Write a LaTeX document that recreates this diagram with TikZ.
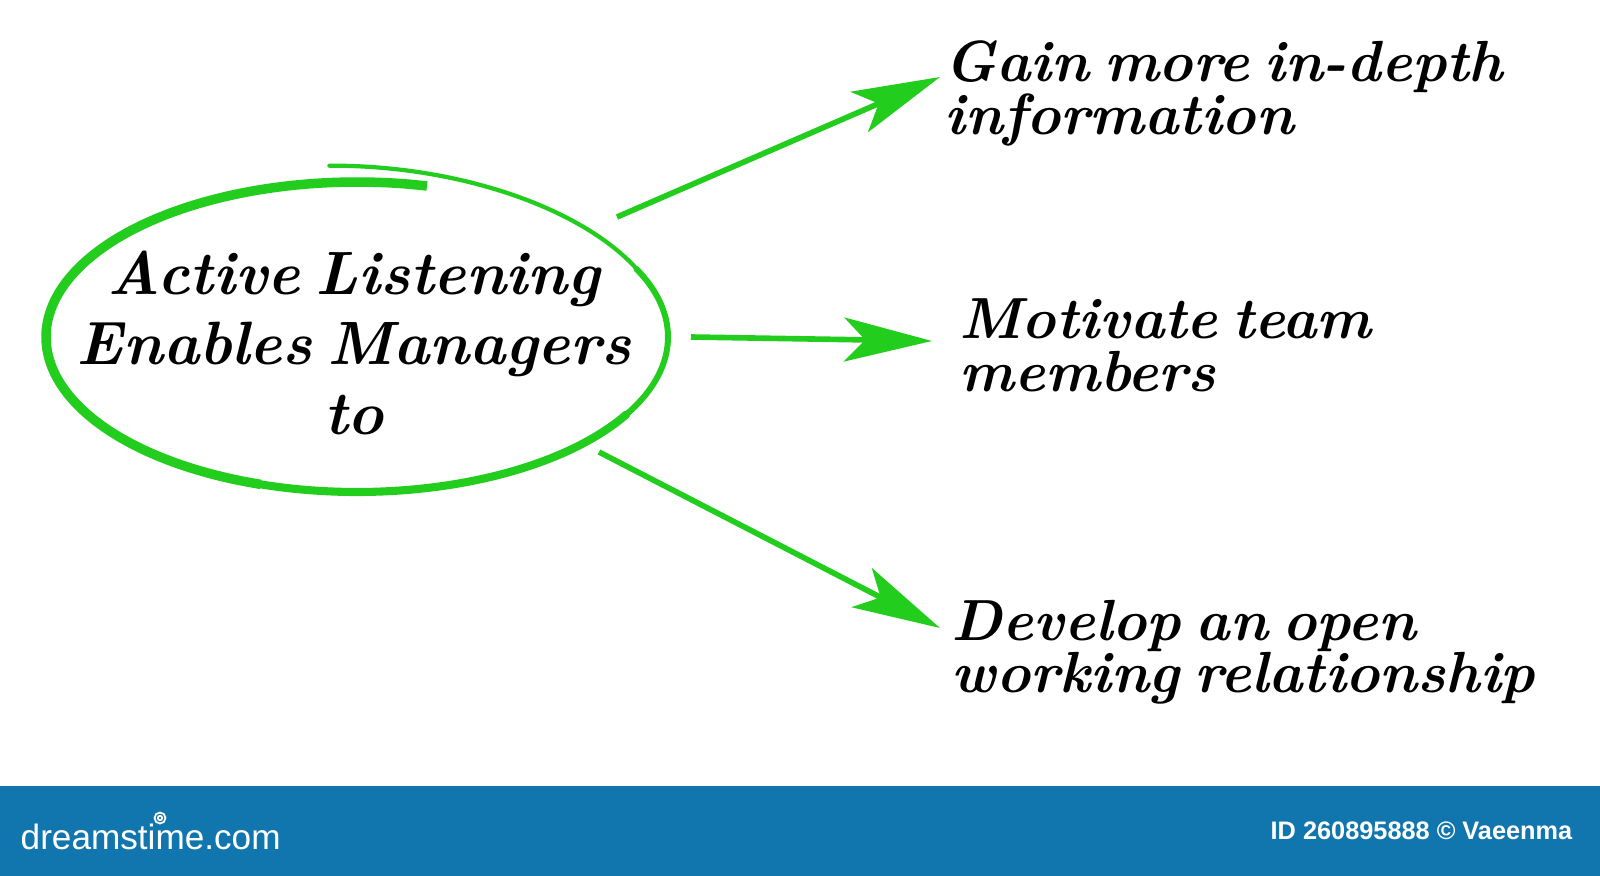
\documentclass[tikz,border=0pt]{standalone}
\usepackage{fontspec}
\newfontfamily\bannerfont{Liberation Sans}
\usetikzlibrary{arrows.meta}
\definecolor{lgreen}{RGB}{35,205,30}
\definecolor{bannerblue}{RGB}{17,118,173}
\tikzset{
  mainfont/.style={font=\fontsize{17.4}{19.9}\selectfont\bfseries\itshape,
    execute at begin node={\spaceskip=4.4pt plus 1pt\relax}},
  itemfont/.style={font=\fontsize{16.5}{15}\selectfont\bfseries\itshape,
    execute at begin node={\spaceskip=4.2pt plus 1pt\relax}},
  greenarrow/.style={draw=lgreen, line width=1.6pt,
    -{Stealth[length=25pt, width=12.5pt, inset=6pt]}},
  ring/.style={draw=lgreen},
  itemtext/.style={itemfont, align=left, inner sep=0pt, anchor=north west}
}
\begin{document}
\lineskiplimit=-100pt\relax
\begin{tikzpicture}[x=0.01cm, y=-0.01cm]
\useasboundingbox (0,0) rectangle (1600,876);
\fill[white] (0,0) rectangle (1600,876);
\fill[bannerblue] (0,786) rectangle (1600,876);

% hand-drawn ring
\draw[ring, line width=2.7pt] plot[smooth, domain=77:252, samples=50]
  ({357+311*cos(\x)},{337-155*sin(\x)});
\draw[ring, line width=2.3pt, line cap=round] plot[smooth, domain=250:330, samples=30]
  ({357+311*cos(\x)},{337-155*sin(\x)});
\draw[ring, line width=1.7pt, line cap=round] plot[smooth, domain=328:386, samples=25]
  ({357+311*cos(\x)},{337-155*sin(\x)});
\draw[ring, line width=1.2pt, line cap=round] plot[smooth, domain=384:455, samples=30]
  ({357+(311+6*(\x-384)/71)*cos(\x)},{337-(155+17*(\x-384)/71)*sin(\x)});

\node[mainfont, align=center, inner sep=0pt] (main) at (354,343)
  {Active Listening\\Enables Managers\\to};

\node[itemtext] (t1) at (944,40) {Gain more in-depth\\information};
\node[itemtext] (t2) at (959,298) {Motivate team\\members};
\node[itemtext] (t3) at (951,599) {Develop an open\\working relationship};

\coordinate (s1) at (617,217);
\coordinate (e1) at (940,77);
\coordinate (s2) at (691,337);
\coordinate (e2) at (932,341);
\coordinate (s3) at (599,452);
\coordinate (e3) at (940,628);
\draw[greenarrow] (s1) -- (e1);
\draw[greenarrow] (s2) -- (e2);
\draw[greenarrow] (s3) -- (e3);

\node[anchor=base west, text=white, inner sep=0pt,
  font=\bannerfont\fontsize{10}{12}\selectfont] (dt) at (20,849) {dreamstime.com};
\draw[white, line width=0.5pt] (160,818) circle (5.5) (160,818) circle (2.2);
\node[anchor=base east, text=white, inner sep=0pt,
  font=\bannerfont\bfseries\fontsize{7.2}{9}\selectfont] (id) at (1573,839)
  {ID 260895888 \textcopyright{} Vaeenma};
\end{tikzpicture}
\end{document}
